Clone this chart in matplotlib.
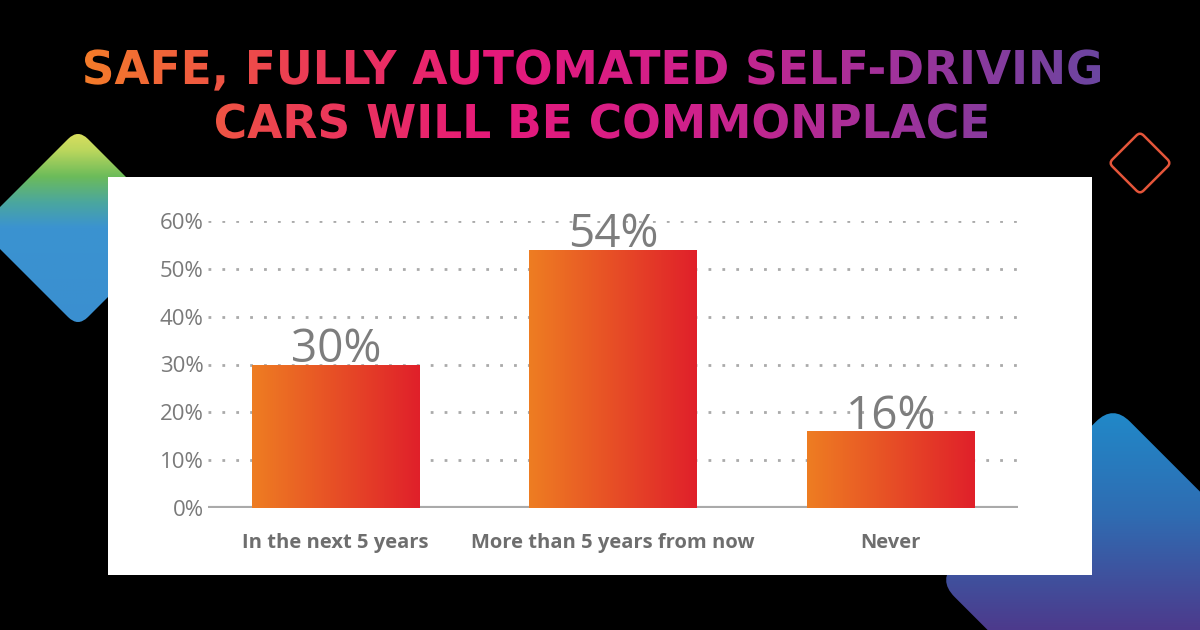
import numpy as np
import matplotlib
matplotlib.use("Agg")
import matplotlib.pyplot as plt
from matplotlib.colors import LinearSegmentedColormap
from matplotlib.patches import Rectangle, FancyBboxPatch, PathPatch
from matplotlib.textpath import TextPath
from matplotlib.font_manager import FontProperties
from matplotlib.transforms import Affine2D

# Data
categories = ["In the next 5 years", "More than 5 years from now", "Never"]
values = [30, 54, 16]
yticks = [0, 10, 20, 30, 40, 50, 60]
title_lines = ["SAFE, FULLY AUTOMATED SELF-DRIVING", "CARS WILL BE COMMONPLACE"]

W, H = 1200, 630
fig = plt.figure(figsize=(12, 6.3), dpi=100, facecolor="black")

# background layer in pixel coords (y down)
bg = fig.add_axes([0, 0, 1, 1], zorder=0)
bg.set_xlim(0, W)
bg.set_ylim(H, 0)
bg.axis("off")
bg.set_facecolor("black")


def gradient_fill(shape_patch, extent, cmap, vertical=True):
    bg.add_patch(shape_patch)
    if vertical:
        grad = np.linspace(0, 1, 256).reshape(-1, 1)
    else:
        grad = np.linspace(0, 1, 256).reshape(1, -1)
    im = bg.imshow(grad, extent=extent, cmap=cmap, aspect="auto",
                   origin="upper", interpolation="bilinear")
    im.set_clip_path(shape_patch)


def rounded_diamond(cx, cy, side, rad, **kw):
    p = FancyBboxPatch((-side / 2, -side / 2), side, side,
                       boxstyle=f"round,pad=0,rounding_size={rad}", **kw)
    p.set_transform(Affine2D().rotate_deg(45).translate(cx, cy) + bg.transData)
    return p


# left green/blue diamond
left_cmap = LinearSegmentedColormap.from_list(
    "l", [(0, "#e8e25e"), (0.12, "#bcd75d"), (0.25, "#6cbb5a"),
          (0.38, "#4aa6a0"), (0.5, "#3b93d0"), (1, "#3a8fd0")])
gradient_fill(rounded_diamond(78, 228, 140, 14, fc="none", ec="none"),
              (-20, 180, 330, 125), left_cmap)

# bottom-right blue/purple diamond
br_cmap = LinearSegmentedColormap.from_list(
    "b", [(0, "#1f8ccb"), (0.5, "#2f6cb2"), (1, "#4d3a8c")])
gradient_fill(rounded_diamond(1113, 580, 248, 24, fc="none", ec="none"),
              (935, 1200, 630, 400), br_cmap)

# small outlined diamond on the right
bg.add_patch(rounded_diamond(1140, 163, 44, 5, fc="none", ec="#e4553a", lw=1.8))

# white panel
bg.add_patch(Rectangle((108, 177), 984, 398, fc="white", ec="none", zorder=5))

# gradient title
title_cmap = LinearSegmentedColormap.from_list(
    "t", [(0, "#f47b2a"), (0.2, "#ec3f52"), (0.4, "#e6197a"),
          (0.6, "#d0218b"), (0.8, "#a0329b"), (1, "#6c45a0")])
fp = FontProperties(family="DejaVu Sans", weight="bold")
cap = TextPath((0, 0), "H", size=100, prop=fp).get_extents().height
line_boxes = [(85, 1100, 84), (216, 987, 138)]
for text, (x0, x1, base) in zip(title_lines, line_boxes):
    tp = TextPath((0, 0), text, size=100, prop=fp)
    ext = tp.get_extents()
    sx = (x1 - x0) / ext.width
    sy = 34 / cap
    tr = Affine2D().translate(-ext.x0, 0).scale(sx, -sy).translate(x0, base)
    patch = PathPatch(tr.transform_path(tp), fc="none", ec="none")
    gradient_fill(patch, (85, 1100, 150, 40), title_cmap, vertical=False)

# chart axes
ax = fig.add_axes([208 / W, (H - 508) / H, 810 / W, 287 / H], zorder=2)
ax.set_facecolor("none")
x = np.arange(len(categories))
bar_w = 0.605
bar_cmap = LinearSegmentedColormap.from_list("r", ["#ee7d22", "#e0202a"])
hgrad = np.linspace(0, 1, 256).reshape(1, -1)
bars = ax.bar(x, values, width=bar_w, color="none", zorder=3)
for b, v in zip(bars, values):
    x0, bw = b.get_x(), b.get_width()
    im = ax.imshow(hgrad, extent=(x0, x0 + bw, 0, v), cmap=bar_cmap,
                   aspect="auto", zorder=3, interpolation="bilinear")
    im.set_clip_path(b)
    ax.text(b.get_x() + bw / 2, v + 0.6, f"{v}%", ha="center", va="baseline",
            fontsize=33, color="#7d7d7d", family="Open Sans", zorder=4)

ax.set_xlim(-0.46, 2.458)
ax.set_ylim(0, 60)
ax.set_yticks(yticks)
ax.set_yticklabels([f"{t}%" for t in yticks], family="Open Sans",
                   fontsize=16, color="#7a7a7a")
ax.set_xticks(x)
ax.set_xticklabels(categories, family="Open Sans", fontweight="bold",
                   fontsize=14.5, color="#6e6e6e")
ax.tick_params(axis="both", length=0)
ax.tick_params(axis="y", pad=3)
ax.tick_params(axis="x", pad=18)
for t in yticks[1:]:
    ax.axhline(t, color="#aaaaaa", lw=2, ls=(0, (1, 4)), zorder=1)
ax.axhline(0, color="#aaaaaa", lw=3, zorder=2)
for s in ax.spines.values():
    s.set_visible(False)

fig.savefig("out.png", dpi=100, facecolor="black")
